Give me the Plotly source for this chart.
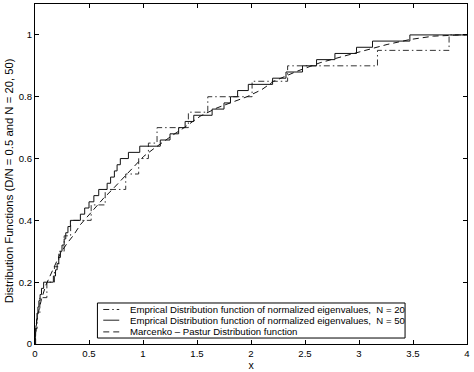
import numpy as np
import plotly.graph_objects as go

# ---- data ----
eig_n20 = [0.006, 0.02, 0.045, 0.11, 0.18, 0.22, 0.27, 0.33, 0.52, 0.65,
           0.84, 0.96, 1.05, 1.13, 1.42, 1.60, 2.01, 2.339, 3.171, 3.834]
eig_n50 = [0.002, 0.005, 0.009, 0.014, 0.02, 0.027, 0.036, 0.047, 0.06, 0.08,
           0.17, 0.19, 0.205, 0.22, 0.235, 0.25, 0.27, 0.285, 0.305, 0.328,
           0.42, 0.46, 0.50, 0.545, 0.59, 0.668, 0.70, 0.735, 0.76, 0.79,
           0.865, 0.97, 1.16, 1.25, 1.33, 1.39, 1.47, 1.64, 1.75, 1.81,
           1.876, 1.975, 2.20, 2.324, 2.477, 2.607, 2.777, 2.977, 3.125, 3.471]
mp_x = [0, 0.01, 0.03, 0.06, 0.1, 0.15, 0.236, 0.298, 0.359, 0.42, 0.498, 0.636,
        0.714, 0.837, 0.93, 1.006, 1.10, 1.19, 1.28, 1.377, 1.53, 1.686, 1.84,
        1.963, 2.10, 2.21, 2.43, 2.64, 2.857, 3.05, 3.26, 3.47, 3.69, 3.94, 4.0]
mp_y = [0, 0.06, 0.10, 0.145, 0.19, 0.23, 0.294, 0.326, 0.353, 0.386, 0.418, 0.472,
        0.499, 0.545, 0.58, 0.607, 0.632, 0.655, 0.677, 0.699, 0.737, 0.764, 0.785,
        0.80, 0.823, 0.85, 0.883, 0.91, 0.931, 0.95, 0.969, 0.985, 0.996, 1.0, 1.0]
x_ticks = [0, 0.5, 1, 1.5, 2, 2.5, 3, 3.5, 4]
x_ticklabels = ["0", "0.5", "1", "1.5", "2", "2.5", "3", "3.5", "4"]
y_ticks = [0, 0.2, 0.4, 0.6, 0.8, 1.0]
y_ticklabels = ["0", "0.2", "0.4", "0.6", "0.8", "1"]
legend_labels = [
    "Emprical Distribution function of normalized eigenvalues,  N = 20",
    "Emprical Distribution function of normalized eigenvalues,  N = 50",
    "Marcenko \u2013 Pastur Distribution function",
]
x_max = 4


def ecdf_xy(eigs):
    n = len(eigs)
    xs = [0.0] + list(eigs) + [x_max]
    ys = [0.0] + [k / n for k in range(1, n + 1)] + [1.0]
    return xs, ys


FONT = "Liberation Sans, Arial, Helvetica, sans-serif"
DASHDOT = "6px,3px,1.5px,3px"
DASH = "6px,4px"

fig = go.Figure()
x20, y20 = ecdf_xy(eig_n20)
x50, y50 = ecdf_xy(eig_n50)
fig.add_trace(go.Scatter(x=x20, y=y20, mode="lines", line_shape="hv",
                         line=dict(color="#333333", width=1, dash=DASHDOT),
                         name=legend_labels[0], showlegend=False))
fig.add_trace(go.Scatter(x=x50, y=y50, mode="lines", line_shape="hv",
                         line=dict(color="#111111", width=1),
                         name=legend_labels[1], showlegend=False))
fig.add_trace(go.Scatter(x=mp_x, y=mp_y, mode="lines",
                         line=dict(color="#111111", width=1, dash=DASH),
                         name=legend_labels[2], showlegend=False))

# manual legend box (paper coords)
bx0, bx1, by0, by1 = 0.1445, 0.8566, 0.0176, 0.1206
fig.add_shape(type="rect", xref="paper", yref="paper", x0=bx0, x1=bx1, y0=by0, y1=by1,
              line=dict(color="black", width=1), fillcolor="white", layer="above")
rows_y = [0.1015, 0.0700, 0.0356]
dashes = [DASHDOT, "solid", DASH]
for yy, dsh, lab in zip(rows_y, dashes, legend_labels):
    fig.add_shape(type="line", xref="paper", yref="paper", x0=0.158, x1=0.195, y0=yy, y1=yy,
                  line=dict(color="#222222", width=1, dash=dsh), layer="above")
    fig.add_annotation(xref="paper", yref="paper", x=0.2155, y=yy, text=lab, showarrow=False,
                       xanchor="left", yanchor="middle",
                       font=dict(family=FONT, size=9.6, color="black"))

axis_common = dict(showline=True, linecolor="black", linewidth=1, mirror="allticks",
                   ticks="inside", ticklen=4, tickcolor="black", tickwidth=1,
                   showgrid=False, zeroline=False,
                   tickfont=dict(family=FONT, size=9.6, color="black"))
fig.update_xaxes(range=[0, x_max], tickvals=x_ticks, ticktext=x_ticklabels,
                 title=dict(text="x", font=dict(family=FONT, size=10.5, color="black"), standoff=2),
                 **axis_common)
fig.update_yaxes(range=[0, 1.1], tickvals=y_ticks, ticktext=y_ticklabels, **axis_common)
fig.add_annotation(xref="paper", yref="paper", x=-0.0613, y=0.48, textangle=-90,
                   text="Distribution Functions (D/N = 0.5 and N = 20, 50)", showarrow=False,
                   xanchor="center", yanchor="middle",
                   font=dict(family=FONT, size=11.3, color="black"))

fig.update_layout(width=474, height=372, margin=dict(l=35, r=7, t=4, b=28),
                  paper_bgcolor="white", plot_bgcolor="white", showlegend=False)
fig.write_html("out.html", config={"displayModeBar": False},
               post_script="document.body.style.margin='0px';document.body.style.overflow='hidden';")
